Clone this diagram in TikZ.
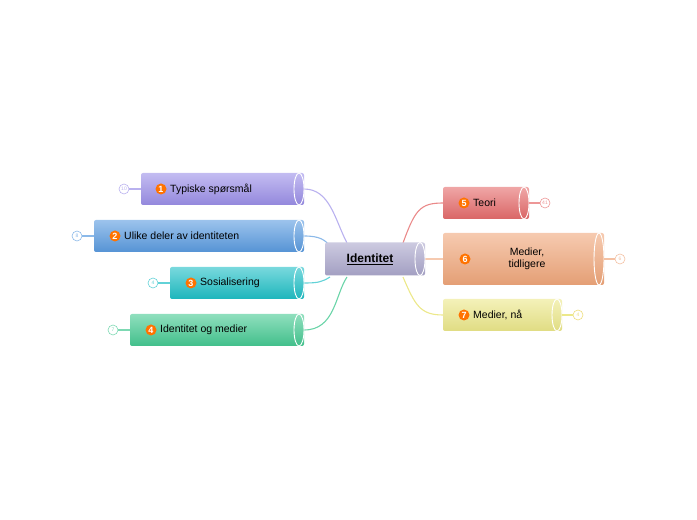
\documentclass[tikz,border=0pt]{standalone}
\usepackage{fontspec}
\setmainfont{Liberation Sans}
\definecolor{cA}{HTML}{9B8FE8}
\definecolor{cB}{HTML}{5A9BE0}
\definecolor{cC}{HTML}{1FBFC6}
\definecolor{cD}{HTML}{45C992}
\definecolor{cE}{HTML}{ABA7CC}
\definecolor{cF}{HTML}{E56B6B}
\definecolor{cG}{HTML}{F0A77B}
\definecolor{cH}{HTML}{ECE88A}
\begin{document}
\begin{tikzpicture}[x=1pt,y=1pt,
  num/.style={circle,fill=orange!90!red,text=white,font=\bfseries\fontsize{9}{9}\selectfont,inner sep=0pt,minimum size=11pt},
  badge/.style={circle,draw=#1,text=#1,fill=white,font=\fontsize{5}{5}\selectfont,inner sep=0pt,minimum size=10pt,line width=0.6pt},
  conn/.style={line width=1.1pt,draw=#1}]
\useasboundingbox (0,0) rectangle (697,520);
\newcommand{\cyl}[6]{%
  \pgfmathsetmacro{\yy}{520-#4}\pgfmathsetmacro{\ww}{#3-#2}\pgfmathsetmacro{\xc}{(#2+#3)/2}\pgfmathsetmacro{\hh}{#5/2}
  \node[rounded corners=2pt,top color=#6!60,bottom color=#6!95!black,minimum width=\ww pt,minimum height=#5 pt,inner sep=0pt] (#1) at (\xc,\yy) {};
  \draw[white,line width=0.9pt] (#3-5,\yy) ellipse (5 and \hh);
}
% branches
\draw[conn=cA!70] (304,331) .. controls (330,331) and (335,300) .. (347,277);
\draw[conn=cB!70] (304,284) .. controls (320,284) and (325,280) .. (330,274);
\draw[conn=cC!70] (304,237) .. controls (318,237) and (322,238) .. (330,243);
\draw[conn=cD!80] (304,190) .. controls (335,190) and (335,225) .. (347,243);
\draw[conn=cF!80] (403,277) .. controls (415,310) and (420,317) .. (443,317);
\draw[conn=cG!60] (425,261) -- (443,261);
\draw[conn=cH] (403,243) .. controls (415,215) and (420,205) .. (443,205);
\cyl{b1}{141}{304}{189}{32}{cA}
\cyl{b2}{94}{304}{236}{32}{cB}
\cyl{b3}{170}{304}{283}{32}{cC}
\cyl{b4}{130}{304}{330}{32}{cD}
\cyl{c}{325}{425}{259}{33}{cE}
\cyl{b5}{443}{529}{203}{32}{cF}
\cyl{b6}{443}{604}{259}{52}{cG}
\cyl{b7}{443}{562}{315}{32}{cH}
\tikzset{lbl/.style={font=\fontsize{10.5}{12}\selectfont}}
\node[lbl] at (370,261) {\fontsize{12}{12}\selectfont\underline{\textbf{Identitet}}};
\node[num] (n1) at (161,331) {1}; \node[lbl,anchor=west] (t1) at (n1.east) {Typiske spørsmål};
\node[num] (n2) at (115,284) {2}; \node[lbl,anchor=west] (t2) at (n2.east) {Ulike deler av identiteten};
\node[num] (n3) at (191,237) {3}; \node[lbl,anchor=west] (t3) at (n3.east) {Sosialisering};
\node[num] (n4) at (151,190) {4}; \node[lbl,anchor=west] (t4) at (n4.east) {Identitet og medier};
\node[num] (n5) at (464,317) {5}; \node[lbl,anchor=west] (t5) at (n5.east) {Teori};
\node[num] (n6) at (465,261) {6}; \node[lbl,align=center] (t6) at (527,261) {Medier,\\tidligere};
\node[num] (n7) at (464,205) {7}; \node[lbl,anchor=west] (t7) at (n7.east) {Medier, nå};
\node[badge=cA!70] (k1) at (124,331) {10};
\node[badge=cB!70] (k2) at (77,284) {8};
\node[badge=cC!70] (k3) at (153,237) {4};
\node[badge=cD!70] (k4) at (113,190) {7};
\node[badge=cF!70] (k5) at (545,317) {41};
\node[badge=cG!70] (k6) at (620,261) {6};
\node[badge=cH!90!orange] (k7) at (578,205) {4};
\draw[conn=cA!70] (k1) -- (b1.west);
\draw[conn=cB!70] (k2) -- (b2.west);
\draw[conn=cC!70] (k3) -- (b3.west);
\draw[conn=cD!70] (k4) -- (b4.west);
\draw[conn=cF!70] (b5.east) -- (k5);
\draw[conn=cG!70] (b6.east) -- (k6);
\draw[conn=cH] (b7.east) -- (k7);
\end{tikzpicture}
\end{document}
